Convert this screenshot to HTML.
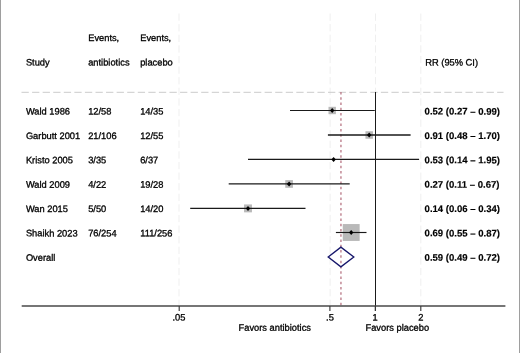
<!DOCTYPE html>
<html><head><meta charset="utf-8"><title>Forest plot</title>
<style>
html,body{margin:0;padding:0;background:#fff;}
body{width:520px;height:353px;overflow:hidden;}
svg{display:block}
text{font-family:"Liberation Sans",Arial,Helvetica,sans-serif;fill:#000;stroke:#000;stroke-width:0.3px;}
.r{font-size:9.3px}
.b{font-size:9.55px;font-weight:bold;stroke-width:0.15px}
</style></head><body>
<svg width="520" height="353" viewBox="0 0 520 353">
<rect width="520" height="353" fill="#fff"/>

<rect x="0" y="0" width="1" height="353" fill="#9e9e9e"/>
<rect x="519" y="0" width="1" height="353" fill="#9e9e9e"/>
<line x1="179.00" y1="13.5" x2="179.00" y2="305" stroke="#efefef" stroke-width="1" stroke-dasharray="7.3 3.3"/>
<line x1="330.10" y1="13.5" x2="330.10" y2="305" stroke="#efefef" stroke-width="1" stroke-dasharray="7.3 3.3"/>
<line x1="375.50" y1="13.5" x2="375.50" y2="92" stroke="#efefef" stroke-width="1" stroke-dasharray="7.3 3.3"/>
<line x1="420.80" y1="13.5" x2="420.80" y2="305" stroke="#efefef" stroke-width="1" stroke-dasharray="7.3 3.3"/>
<line x1="21.5" y1="92.3" x2="503.5" y2="92.3" stroke="#cbcbcb" stroke-width="1" stroke-dasharray="7.3 3.27"/>
<line x1="340.95" y1="92" x2="340.95" y2="305.5" stroke="#b5707f" stroke-width="1.25" stroke-dasharray="2.5 2.77"/>
<line x1="375.5" y1="92" x2="375.5" y2="310.9" stroke="#1a1a1a" stroke-width="1.05"/>
<line x1="21.7" y1="306.0" x2="505.4" y2="306.0" stroke="#484848" stroke-width="1.27"/>
<line x1="179.20" y1="305.9" x2="179.20" y2="310.9" stroke="#3a3a3a" stroke-width="1.15"/>
<text class="r" x="179.00" y="320.60" transform="rotate(0.1 179.00 320.60)" text-anchor="middle">.05</text>
<line x1="329.90" y1="305.9" x2="329.90" y2="310.9" stroke="#3a3a3a" stroke-width="1.15"/>
<text class="r" x="330.00" y="320.60" transform="rotate(0.1 330.00 320.60)" text-anchor="middle">.5</text>
<line x1="375.30" y1="305.9" x2="375.30" y2="310.9" stroke="#3a3a3a" stroke-width="1.15"/>
<text class="r" x="375.00" y="320.60" transform="rotate(0.1 375.00 320.60)" text-anchor="middle">1</text>
<line x1="420.80" y1="305.9" x2="420.80" y2="310.9" stroke="#3a3a3a" stroke-width="1.15"/>
<text class="r" x="420.90" y="320.60" transform="rotate(0.1 420.90 320.60)" text-anchor="middle">2</text>
<text class="r" x="238.60" y="330.75" transform="rotate(0.1 238.60 330.75)">Favors antibiotics</text>
<text class="r" x="365.50" y="330.75" transform="rotate(0.1 365.50 330.75)">Favors placebo</text>
<text class="r" x="25.90" y="65.55" transform="rotate(0.1 25.90 65.55)">Study</text>
<text class="r" x="88.20" y="41.05" transform="rotate(0.1 88.20 41.05)">Events,</text>
<text class="r" x="88.20" y="65.55" transform="rotate(0.1 88.20 65.55)">antibiotics</text>
<text class="r" x="140.20" y="41.05" transform="rotate(0.1 140.20 41.05)">Events,</text>
<text class="r" x="140.20" y="65.55" transform="rotate(0.1 140.20 65.55)">placebo</text>
<text class="r" x="425.30" y="65.55" transform="rotate(0.1 425.30 65.55)">RR (95% CI)</text>
<text class="r" x="25.90" y="114.55" transform="rotate(0.1 25.90 114.55)">Wald 1986</text>
<text class="r" x="88.20" y="114.55" transform="rotate(0.1 88.20 114.55)">12/58</text>
<text class="r" x="140.20" y="114.55" transform="rotate(0.1 140.20 114.55)">14/35</text>
<text class="b" x="424.60" y="114.55" transform="rotate(0.1 424.60 114.55)">0.52 (0.27 – 0.99)</text>
<rect x="328.50" y="106.80" width="7.40" height="7.40" fill="#b9b9b9"/>
<line x1="290.00" y1="110.50" x2="374.80" y2="110.50" stroke="#1a1a1a" stroke-width="1.15"/>
<path d="M330.00 110.50 L332.20 108.00 L334.40 110.50 L332.20 113.00Z" fill="#000"/>
<text class="r" x="25.90" y="138.91" transform="rotate(0.1 25.90 138.91)">Garbutt 2001</text>
<text class="r" x="88.20" y="138.91" transform="rotate(0.1 88.20 138.91)">21/106</text>
<text class="r" x="140.20" y="138.91" transform="rotate(0.1 140.20 138.91)">12/55</text>
<text class="b" x="424.60" y="138.91" transform="rotate(0.1 424.60 138.91)">0.91 (0.48 – 1.70)</text>
<rect x="365.45" y="131.25" width="7.50" height="7.50" fill="#b9b9b9"/>
<line x1="327.90" y1="135.00" x2="410.60" y2="135.00" stroke="#1a1a1a" stroke-width="1.6"/>
<path d="M367.00 135.00 L369.20 132.50 L371.40 135.00 L369.20 137.50Z" fill="#000"/>
<text class="r" x="25.90" y="163.27" transform="rotate(0.1 25.90 163.27)">Kristo 2005</text>
<text class="r" x="88.20" y="163.27" transform="rotate(0.1 88.20 163.27)">3/35</text>
<text class="r" x="140.20" y="163.27" transform="rotate(0.1 140.20 163.27)">6/37</text>
<text class="b" x="424.60" y="163.27" transform="rotate(0.1 424.60 163.27)">0.53 (0.14 – 1.95)</text>
<line x1="248.00" y1="159.40" x2="419.10" y2="159.40" stroke="#1a1a1a" stroke-width="1.15"/>
<path d="M331.40 159.40 L333.60 156.90 L335.80 159.40 L333.60 161.90Z" fill="#000"/>
<text class="r" x="25.90" y="187.63" transform="rotate(0.1 25.90 187.63)">Wald 2009</text>
<text class="r" x="88.20" y="187.63" transform="rotate(0.1 88.20 187.63)">4/22</text>
<text class="r" x="140.20" y="187.63" transform="rotate(0.1 140.20 187.63)">19/28</text>
<text class="b" x="424.60" y="187.63" transform="rotate(0.1 424.60 187.63)">0.27 (0.11 – 0.67)</text>
<rect x="285.25" y="180.10" width="7.70" height="7.70" fill="#b9b9b9"/>
<line x1="228.70" y1="183.95" x2="349.70" y2="183.95" stroke="#1a1a1a" stroke-width="1.3"/>
<path d="M286.90 183.95 L289.10 181.45 L291.30 183.95 L289.10 186.45Z" fill="#000"/>
<text class="r" x="25.90" y="211.99" transform="rotate(0.1 25.90 211.99)">Wan 2015</text>
<text class="r" x="88.20" y="211.99" transform="rotate(0.1 88.20 211.99)">5/50</text>
<text class="r" x="140.20" y="211.99" transform="rotate(0.1 140.20 211.99)">14/20</text>
<text class="b" x="424.60" y="211.99" transform="rotate(0.1 424.60 211.99)">0.14 (0.06 – 0.34)</text>
<rect x="244.05" y="204.45" width="7.90" height="7.90" fill="#b9b9b9"/>
<line x1="190.20" y1="208.40" x2="305.50" y2="208.40" stroke="#1a1a1a" stroke-width="1.15"/>
<path d="M245.80 208.40 L248.00 205.90 L250.20 208.40 L248.00 210.90Z" fill="#000"/>
<text class="r" x="25.90" y="236.35" transform="rotate(0.1 25.90 236.35)">Shaikh 2023</text>
<text class="r" x="88.20" y="236.35" transform="rotate(0.1 88.20 236.35)">76/254</text>
<text class="r" x="140.20" y="236.35" transform="rotate(0.1 140.20 236.35)">111/256</text>
<text class="b" x="424.60" y="236.35" transform="rotate(0.1 424.60 236.35)">0.69 (0.55 – 0.87)</text>
<rect x="342.75" y="224.05" width="16.90" height="16.90" fill="#b9b9b9"/>
<line x1="335.90" y1="232.50" x2="366.50" y2="232.50" stroke="#1a1a1a" stroke-width="1.15"/>
<path d="M349.00 232.50 L351.20 230.00 L353.40 232.50 L351.20 235.00Z" fill="#000"/>
<text class="r" x="25.90" y="260.71" transform="rotate(0.1 25.90 260.71)">Overall</text>
<text class="b" x="424.60" y="260.71" transform="rotate(0.1 424.60 260.71)">0.59 (0.49 – 0.72)</text>
<path d="M328.2 257.00 L340.9 247.10 L353.8 257.00 L340.9 266.90Z" fill="none" stroke="#17176b" stroke-width="1.35"/>
</svg></body></html>
